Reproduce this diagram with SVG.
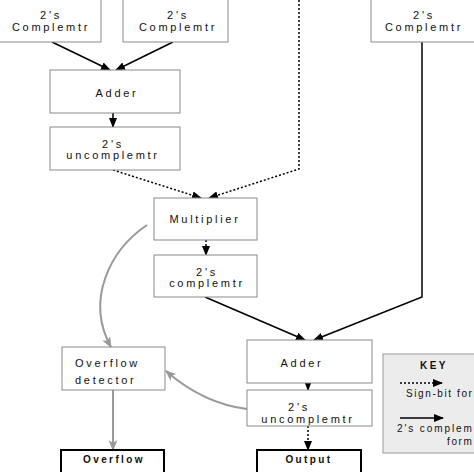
<svg xmlns="http://www.w3.org/2000/svg" width="474" height="472" viewBox="0 0 474 472">
<style>
.box{fill:#fff;stroke:#8a8a8a;stroke-width:1}
.out{fill:#fff;stroke:#000;stroke-width:2}
.key{fill:#ececec;stroke:#999;stroke-width:1}
text{font-family:"Liberation Sans",Arial,sans-serif;font-size:11px;letter-spacing:2.7px;fill:#111;text-anchor:middle}
.b{font-weight:bold;letter-spacing:2.4px;font-size:10px}
.l{text-anchor:start}
.s{fill:none;stroke:#000;stroke-width:1.5}
.d{fill:none;stroke:#000;stroke-width:1.5;stroke-dasharray:2 2}
.g{fill:none;stroke:#999;stroke-width:2}
</style>
<defs>
<marker id="ab" markerWidth="10" markerHeight="8" refX="9" refY="4" orient="auto" markerUnits="userSpaceOnUse"><path d="M0,0 L10,4 L0,8 z" fill="#000"/></marker>
<marker id="ag" markerWidth="11" markerHeight="9" refX="10" refY="4.5" orient="auto" markerUnits="userSpaceOnUse"><path d="M0,0 L11,4.5 L0,9 L3,4.5 z" fill="#999"/></marker>
</defs>
<g id="connectors">
<path class="s" d="M52,42 L110,70" marker-end="url(#ab)"/>
<path class="s" d="M173,42 L116,70" marker-end="url(#ab)"/>
<path class="s" d="M113,113 L113,127" marker-end="url(#ab)"/>
<path class="d" d="M113,170 L201,198" marker-end="url(#ab)"/>
<path class="d" d="M299,0 L299,169 L209,198" marker-end="url(#ab)"/>
<path class="d" d="M206,240 L206,255" marker-end="url(#ab)"/>
<path class="s" d="M422,42 L422,297 L314,340" marker-end="url(#ab)"/>
<path class="s" d="M205,297 L305,340" marker-end="url(#ab)"/>
<path class="s" d="M308,383 L308,390" marker-end="url(#ab)"/>
<path class="d" d="M308,426 L308,450" marker-end="url(#ab)"/>
<path class="g" d="M147,225 C110,250 85,300 111,347" marker-end="url(#ag)"/>
<path class="g" d="M247,409 C215,405 190,392 166,371" marker-end="url(#ag)"/>
<path class="g" d="M113,390 L113,450" marker-end="url(#ag)"/>
</g>
<g id="comp1"><rect class="box" x="-5" y="-5" width="106" height="47"/><text x="51" y="19">2's</text><text x="51" y="31">Complemtr</text></g>
<g id="comp2"><rect class="box" x="123" y="-5" width="105" height="47"/><text x="178" y="19">2's</text><text x="178" y="31">Complemtr</text></g>
<g id="comp3"><rect class="box" x="371" y="-5" width="110" height="47"/><text x="424" y="19">2's</text><text x="424" y="31">Complemtr</text></g>
<g id="adder1"><rect class="box" x="50" y="70" width="130" height="43"/><text x="117" y="97">Adder</text></g>
<g id="uncomp1"><rect class="box" x="50" y="127" width="130" height="43"/><text x="113" y="148">2's</text><text x="113" y="159">uncomplemtr</text></g>
<g id="mult"><rect class="box" x="154" y="198" width="103" height="42"/><text x="205" y="223">Multiplier</text></g>
<g id="comp4"><rect class="box" x="154" y="255" width="103" height="42"/><text x="207" y="276">2's</text><text x="207" y="287">complemtr</text></g>
<g id="adder2"><rect class="box" x="247" y="340" width="125" height="43"/><text x="302" y="367">Adder</text></g>
<g id="uncomp2"><rect class="box" x="247" y="390" width="125" height="36"/><text x="299" y="411">2's</text><text x="308" y="423">uncomplemtr</text></g>
<g id="ovdet"><rect class="box" x="62" y="347" width="103" height="43"/><text class="l" x="75" y="367">Overflow</text><text class="l" x="75" y="384">detector</text></g>
<g id="overflow"><rect class="out" x="61" y="450" width="103" height="30"/><text class="b" x="114" y="463">Overflow</text></g>
<g id="output"><rect class="out" x="257" y="450" width="104" height="30"/><text class="b" x="309" y="463">Output</text></g>
<g id="key"><rect class="key" x="383" y="354" width="100" height="99"/>
<text class="b" x="434" y="369">KEY</text>
<path class="d" d="M400,383 L442,383" marker-end="url(#ab)"/>
<text class="l" x="406" y="397" style="font-size:10px;letter-spacing:1.6px">Sign-bit form</text>
<path class="s" d="M400,418 L443,418" marker-end="url(#ab)"/>
<text class="l" x="397" y="432" style="font-size:10px;letter-spacing:1.9px">2's complement</text>
<text class="l" x="447" y="445" style="font-size:10px;letter-spacing:1.6px">form</text>
</g>
</svg>
